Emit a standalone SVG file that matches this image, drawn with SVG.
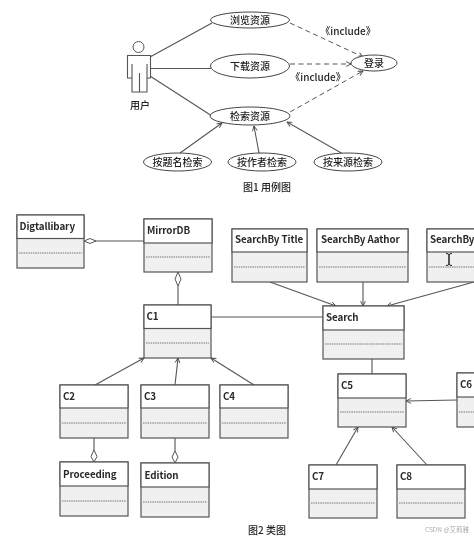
<svg xmlns="http://www.w3.org/2000/svg" width="474" height="537" viewBox="0 0 474 537">
<style>
text{font-family:"Noto Sans CJK SC","Noto Sans",sans-serif;fill:#222}
.u{font-size:10px;text-anchor:middle;font-weight:500}
.c{font-size:9.8px;font-weight:700;fill:#2a2a2a;letter-spacing:-.1px}
.box{fill:#fff;stroke:#555;stroke-width:1.2}
.body{fill:#f0f0f0;stroke:#555;stroke-width:1.2}
.dot{stroke:#777;stroke-width:1;stroke-dasharray:1.5 .8;fill:none}
.e{fill:#fff;stroke:#444;stroke-width:1}
.l{fill:none;stroke:#555;stroke-width:1.1}
.d{fill:none;stroke:#555;stroke-width:1;stroke-dasharray:5 3.5}
.dia{fill:#fff;stroke:#555;stroke-width:1}
</style>
<defs>
<marker id="a" viewBox="0 0 8 8" refX="7.5" refY="4" markerWidth="6" markerHeight="6" markerUnits="userSpaceOnUse" orient="auto"><path d="M1 .8L7.500 4L1 7.200" fill="none" stroke="#444" stroke-width="1.200"/></marker>
<filter id="soft" filterUnits="userSpaceOnUse" x="0" y="0" width="474" height="537"><feGaussianBlur stdDeviation="0.35"/></filter>
</defs>
<rect width="474" height="537" fill="#fff"/>
<g filter="url(#soft)">
<g id="connectors">
<path class="l" d="M150 57L212 23M150 68.500L211 68.500M150 76L212 116"/>
<path class="d" d="M290 23L363 57" marker-end="url(#a)"/>
<path class="d" d="M290 64L351 64" marker-end="url(#a)"/>
<path class="d" d="M290 112L363 71" marker-end="url(#a)"/>
<path class="l" d="M180 153L222 123" marker-end="url(#a)"/>
<path class="l" d="M259 153L254 126" marker-end="url(#a)"/>
<path class="l" d="M343 154L287 122" marker-end="url(#a)"/>
<path class="l" d="M92 241H144M178 286V305M212 317H323"/>
<path class="l" d="M95 385L144 358" marker-end="url(#a)"/>
<path class="l" d="M175 385L178 358" marker-end="url(#a)"/>
<path class="l" d="M254 385L211 358" marker-end="url(#a)"/>
<path class="l" d="M270 282L336 306" marker-end="url(#a)"/>
<path class="l" d="M363 282L363 306" marker-end="url(#a)"/>
<path class="l" d="M474 282L387 306" marker-end="url(#a)"/>
<path class="l" d="M372 351V374"/>
<path class="l" d="M457 400L406 401" marker-end="url(#a)"/>
<path class="l" d="M336 465L358 427" marker-end="url(#a)"/>
<path class="l" d="M427 465L392 427" marker-end="url(#a)"/>
<path class="l" d="M94 437V450M175 437V451"/>
<path class="dia" d="M84 241L90 238.500L96 241L90 243.500Z"/>
<path class="dia" d="M178 272L181 279L178 286L175 279Z"/>
<path class="dia" d="M94 450L97 456.500L94 462L91 456.500Z"/>
<path class="dia" d="M175 451L178 457L175 463L172 457Z"/>
</g>
<g id="actor-user">
<circle cx="138.500" cy="47" r="5.500" fill="#fff" stroke="#555"/>
<path d="M127.500 55.500H150.500V78H147V92H132V78H127.500ZM132 64V78M147 64V78M139.500 73V92" fill="#fff" stroke="#555" stroke-width="1.100"/>
<text class="u" x="140" y="109">用户</text>
</g>
<g id="uc-browse"><ellipse class="e" cx="250" cy="20" rx="39.500" ry="8"/><text class="u" x="250" y="24">浏览资源</text></g>
<g id="uc-download"><ellipse class="e" cx="250" cy="66" rx="39.500" ry="12"/><text class="u" x="250" y="70">下载资源</text></g>
<g id="uc-login"><ellipse class="e" cx="374" cy="63" rx="23" ry="8"/><text class="u" x="374" y="67">登录</text></g>
<g id="uc-search"><ellipse class="e" cx="250" cy="116" rx="40" ry="9"/><text class="u" x="250" y="120">检索资源</text></g>
<g id="uc-title"><ellipse class="e" cx="177.500" cy="162" rx="34" ry="9"/><text class="u" x="177.500" y="166">按题名检索</text></g>
<g id="uc-author"><ellipse class="e" cx="262" cy="162" rx="34" ry="9"/><text class="u" x="262" y="166">按作者检索</text></g>
<g id="uc-source"><ellipse class="e" cx="348" cy="162" rx="34" ry="9"/><text class="u" x="348" y="166">按来源检索</text></g>
<text class="u" x="348" y="35">《include》</text>
<text class="u" x="318" y="81">《include》</text>
<text class="u" x="267" y="191">图1 用例图</text>
<g id="Digtallibary"><rect class="body" x="17" y="215" width="67" height="53"/><rect class="box" x="17" y="215" width="67" height="23.500"/><path class="dot" d="M19 253H82"/><text class="c" x="19.500" y="230">Digtallibary</text></g>
<g id="MirrorDB"><rect class="body" x="144" y="219" width="68" height="53"/><rect class="box" x="144" y="219" width="68" height="24"/><path class="dot" d="M146 257H210"/><text class="c" x="147" y="234">MirrorDB</text></g>
<g id="C1"><rect class="body" x="144" y="305" width="67" height="53"/><rect class="box" x="144" y="305" width="67" height="23.500"/><path class="dot" d="M146 343H209"/><text class="c" x="146.500" y="320">C1</text></g>
<g id="SearchByTitle"><rect class="body" x="232" y="229" width="75" height="53"/><rect class="box" x="232" y="229" width="75" height="23"/><path class="dot" d="M234 267H305"/><text class="c" x="235" y="243">SearchBy Title</text></g>
<g id="SearchByAathor"><rect class="body" x="317" y="229" width="91" height="53"/><rect class="box" x="317" y="229" width="91" height="23"/><path class="dot" d="M319 267H406"/><text class="c" x="321" y="243">SearchBy Aathor</text></g>
<g id="SearchBy"><rect class="body" x="427" y="229" width="60" height="53"/><rect class="box" x="427" y="229" width="60" height="23"/><path class="dot" d="M429 267H474"/><text class="c" x="430" y="243">SearchBy</text>
<path d="M446 253.500Q449 253.500 449 255V264Q449 265.500 446 265.500M452 253.500Q449 253.500 449 255V264Q449 265.500 452 265.500" fill="none" stroke="#222" stroke-width="1"/></g>
<g id="Search"><rect class="body" x="323" y="306" width="81" height="53"/><rect class="box" x="323" y="306" width="81" height="24"/><path class="dot" d="M325 344H402"/><text class="c" x="326" y="321">Search</text></g>
<g id="C2"><rect class="body" x="60" y="385" width="68" height="53"/><rect class="box" x="60" y="385" width="68" height="23"/><path class="dot" d="M62 423H126"/><text class="c" x="63" y="400">C2</text></g>
<g id="C3"><rect class="body" x="141" y="385" width="68" height="53"/><rect class="box" x="141" y="385" width="68" height="23"/><path class="dot" d="M143 423H207"/><text class="c" x="144" y="400">C3</text></g>
<g id="C4"><rect class="body" x="220" y="385" width="68" height="53"/><rect class="box" x="220" y="385" width="68" height="23"/><path class="dot" d="M222 423H286"/><text class="c" x="223" y="400">C4</text></g>
<g id="Proceeding"><rect class="body" x="60" y="462" width="68" height="54"/><rect class="box" x="60" y="462" width="68" height="24"/><path class="dot" d="M62 501H126"/><text class="c" x="63" y="478">Proceeding</text></g>
<g id="Edition"><rect class="body" x="141" y="463" width="68" height="54"/><rect class="box" x="141" y="463" width="68" height="24"/><path class="dot" d="M143 502H207"/><text class="c" x="144.500" y="479">Edition</text></g>
<g id="C5"><rect class="body" x="338" y="374" width="68" height="53"/><rect class="box" x="338" y="374" width="68" height="24"/><path class="dot" d="M340 412H404"/><text class="c" x="341" y="389">C5</text></g>
<g id="C6"><rect class="body" x="457" y="373" width="40" height="54"/><rect class="box" x="457" y="373" width="40" height="24"/><path class="dot" d="M459 412H474"/><text class="c" x="460" y="388">C6</text></g>
<g id="C7"><rect class="body" x="309" y="465" width="68" height="53"/><rect class="box" x="309" y="465" width="68" height="24"/><path class="dot" d="M311 503H375"/><text class="c" x="312" y="480">C7</text></g>
<g id="C8"><rect class="body" x="397" y="465" width="68" height="53"/><rect class="box" x="397" y="465" width="68" height="24"/><path class="dot" d="M399 503H463"/><text class="c" x="400" y="480">C8</text></g>
<text class="u" x="267" y="534">图2 类图</text>
<text x="425" y="532" style="font-size:6.500px;fill:#aaa">CSDN @艾莉雅</text>
</g>
</svg>
